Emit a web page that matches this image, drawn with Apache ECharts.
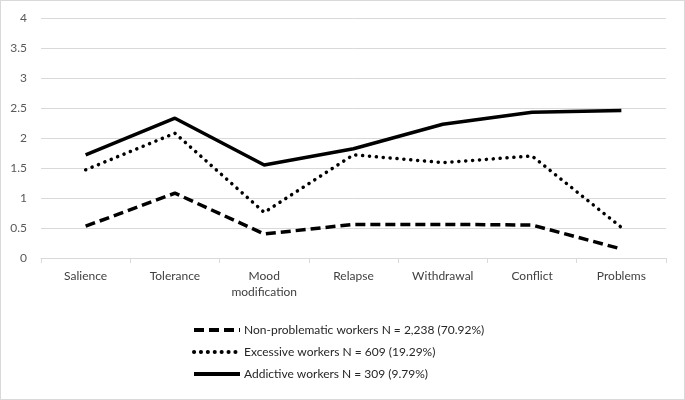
<!DOCTYPE html>
<html><head><meta charset="utf-8">
<script src="https://cdn.jsdelivr.net/npm/echarts@6/dist/echarts.min.js"></script>
<style>html,body{margin:0;padding:0;background:#fff}#c{width:685px;height:400px;box-sizing:border-box;border:1px solid #d9d9d9}</style>
</head><body><div id="c"></div>
<script>
const categories = ['Salience','Tolerance','Mood\nmodification','Relapse','Withdrawal','Conflict','Problems'];
const nonProblematic = [0.53, 1.08, 0.40, 0.56, 0.56, 0.55, 0.15];
const excessive = [1.47, 2.08, 0.76, 1.72, 1.59, 1.70, 0.51];
const addictive = [1.72, 2.33, 1.55, 1.82, 2.23, 2.43, 2.46];
const seriesNames = ['Non-problematic workers N = 2,238 (70.92%)','Excessive workers N = 609 (19.29%)','Addictive workers N = 309 (9.79%)'];
const yTicks = [0,0.5,1,1.5,2,2.5,3,3.5,4];

const chart = echarts.init(document.getElementById('c'));
const font = 'Lato, "Open Sans", sans-serif';
chart.setOption({
  animation:false,
  textStyle:{fontFamily:font},
  grid:{left:40,right:18,top:17,bottom:141},
  legend:{orient:'vertical',left:186,top:318,itemWidth:46,itemHeight:10,itemGap:10,
    itemStyle:{opacity:0,color:'transparent',borderWidth:0},
    lineStyle:{width:4},
    textStyle:{fontFamily:font,fontSize:12,color:'#262626',padding:[0,0,0,-1]},
    data:seriesNames},
  xAxis:{type:'category',data:categories,boundaryGap:true,
    axisLine:{lineStyle:{color:'#d9d9d9',width:1}},
    axisTick:{show:true,length:5,lineStyle:{color:'#d9d9d9'}},
    axisLabel:{color:'#404040',fontSize:12,fontFamily:font,margin:10,lineHeight:16,interval:0}},
  yAxis:{type:'value',min:0,max:4,interval:0.5,
    axisLine:{show:false},axisTick:{show:false},
    splitLine:{lineStyle:{color:'#d9d9d9',width:1}},
    axisLabel:{color:'#595959',fontSize:12,fontFamily:font,margin:14,formatter:v=>String(v)}},
  series:[
    {name:seriesNames[0],type:'line',data:nonProblematic,symbol:'none',
     lineStyle:{color:'#000',width:3.5,type:[10,5],cap:'butt'},itemStyle:{color:'#000'}},
    {name:seriesNames[1],type:'line',data:excessive,symbol:'none',
     lineStyle:{color:'#000',width:3.5,type:[0.1,6.8],cap:'round'},itemStyle:{color:'#000'}},
    {name:seriesNames[2],type:'line',data:addictive,symbol:'none',
     lineStyle:{color:'#000',width:3.5,type:'solid'},itemStyle:{color:'#000'}}
  ]
});
</script></body></html>
